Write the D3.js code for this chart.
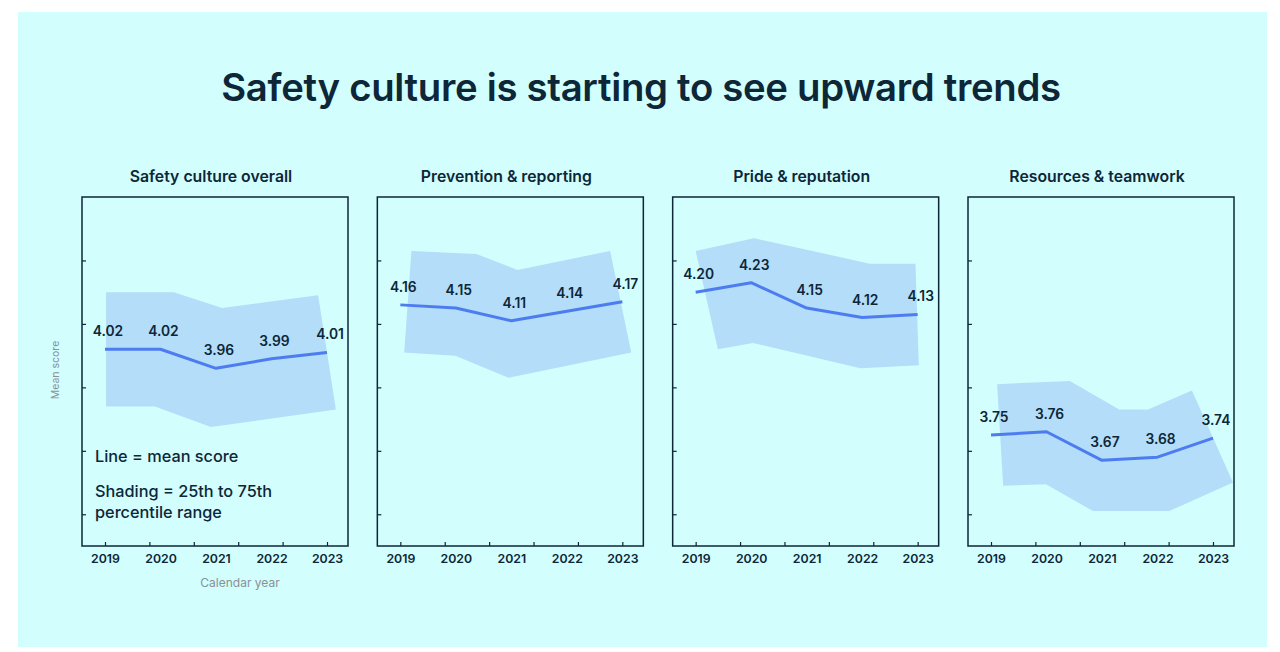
<!DOCTYPE html>
<html>
<head>
<meta charset="utf-8">
<script src="https://cdn.jsdelivr.net/npm/d3@7"></script>
<style>
  body { margin: 0; background: #ffffff; }
  svg text { font-family: Inter, "Noto Sans", sans-serif; }
</style>
</head>
<body>
<div id="chart"></div>
<script>
// datos
const years = [2019, 2020, 2021, 2022, 2023];
const panelTitles = ["Safety culture overall", "Prevention & reporting", "Pride & reputation", "Resources & teamwork"];
const meanScores = [
  [4.02, 4.02, 3.96, 3.99, 4.01],
  [4.16, 4.15, 4.11, 4.14, 4.17],
  [4.20, 4.23, 4.15, 4.12, 4.13],
  [3.75, 3.76, 3.67, 3.68, 3.74]
];
// contorno de la banda 25-75 (año, puntaje), arriba de izq. a der.
const bandUpper = [
  [[2019.02, 4.20], [2020.24, 4.20], [2021.11, 4.15], [2022.84, 4.19], [2023.16, 3.83]],
  [[2019.2, 4.33], [2020.37, 4.32], [2021.11, 4.27], [2022.78, 4.33], [2023.16, 4.01]],
  [[2019.0, 4.33], [2020.05, 4.37], [2022.14, 4.29], [2022.96, 4.29], [2023.02, 3.97]],
  [[2019.11, 3.91], [2020.42, 3.92], [2021.31, 3.83], [2021.83, 3.83], [2022.62, 3.89], [2023.36, 3.60]]
];
// abajo, de der. a izq.
const bandLower = [
  [[2020.91, 3.775], [2019.9, 3.84], [2019.02, 3.84]],
  [[2020.95, 3.93], [2019.99, 4.00], [2019.07, 4.01]],
  [[2021.97, 3.96], [2020.03, 4.04], [2019.4, 4.02]],
  [[2022.21, 3.51], [2020.84, 3.51], [2019.99, 3.595], [2019.22, 3.59]]
];
const yTicks = [3.5, 3.7, 3.9, 4.1, 4.3];
const yDomain = [3.4, 4.5];
const legendLines = ["Line = mean score", "Shading = 25th to 75th", "percentile range"];

const W = 1280, H = 652;
const navy = "#0d2638";

const svg = d3.select("#chart").append("svg")
  .attr("width", W).attr("height", H);

svg.append("rect")
  .attr("x", 18).attr("y", 12)
  .attr("width", 1249).attr("height", 635)
  .attr("fill", "#d2fefe");

svg.append("text")
  .attr("x", 641).attr("y", 101)
  .attr("text-anchor", "middle")
  .style("font-size", "38.3px")
  .style("font-weight", 600)
  .style("letter-spacing", "-0.3px")
  .attr("fill", navy)
  .text("Safety culture is starting to see upward trends");

const panelW = 266, plotTop = 197, plotBottom = 546;
const panelX = d3.scaleLinear().domain([0, 3]).range([82, 968]);

const yScale = d3.scaleLinear().domain(yDomain).range([plotBottom, plotTop]);

panelTitles.forEach((title, i) => {
  const x0 = panelX(i);
  const xScale = d3.scaleLinear().domain([2019, 2023]).range([x0 + 23, x0 + 245]);
  const g = svg.append("g");

  // banda
  const outline = bandUpper[i].concat(bandLower[i]);
  g.append("path")
    .attr("d", d3.line().x(d => xScale(d[0])).y(d => yScale(d[1]))(outline) + "Z")
    .attr("fill", "#b3ddf8");

  // linea del promedio
  const pts = years.map((yr, j) => ({ yr: yr, v: meanScores[i][j] }));
  g.append("path")
    .datum(pts)
    .attr("d", d3.line().x(d => xScale(d.yr)).y(d => yScale(d.v)))
    .attr("fill", "none")
    .attr("stroke", "#4d7cf0")
    .attr("stroke-width", 3)
    .attr("stroke-linejoin", "round");

  g.selectAll(".val")
    .data(pts)
    .enter().append("text")
    .attr("x", d => xScale(d.yr) + 3)
    .attr("y", d => yScale(d.v) - 13)
    .attr("text-anchor", "middle")
    .style("font-size", "13.8px")
    .style("font-weight", 600)
    .attr("fill", navy)
    .text(d => d.v.toFixed(2));

  // marco
  g.append("rect")
    .attr("x", x0).attr("y", plotTop)
    .attr("width", panelW).attr("height", plotBottom - plotTop)
    .attr("fill", "none")
    .attr("stroke", navy)
    .attr("stroke-width", 1.5);

  // ticks izquierda (hacia adentro)
  const yAxis = g.append("g")
    .attr("transform", `translate(${x0},0)`)
    .call(d3.axisLeft(yScale).tickValues(yTicks).tickSize(-4).tickFormat(""));
  yAxis.select(".domain").remove();
  yAxis.selectAll(".tick line").attr("stroke", navy).attr("stroke-width", 1.2);

  // ticks abajo: 6 marcas parejas
  const tickPos = d3.range(6).map(k => 2019 + k * 0.8);
  const xTicks = g.append("g")
    .attr("transform", `translate(0,${plotBottom})`)
    .call(d3.axisBottom(xScale).tickValues(tickPos).tickSize(-4).tickFormat(""));
  xTicks.select(".domain").remove();
  xTicks.selectAll(".tick line").attr("stroke", navy).attr("stroke-width", 1.2);

  // etiquetas de años
  const xLabels = g.append("g")
    .attr("transform", `translate(0,${plotBottom})`)
    .call(d3.axisBottom(xScale).tickValues(years).tickSize(0).tickPadding(8.5).tickFormat(d3.format("d")));
  xLabels.select(".domain").remove();
  xLabels.selectAll("text")
    .style("font-size", "12.3px")
    .style("font-weight", 600)
    .style("font-family", "Inter, sans-serif")
    .attr("fill", navy);

  g.append("text")
    .attr("x", x0 + panelW / 2 - 4)
    .attr("y", 182)
    .attr("text-anchor", "middle")
    .style("font-size", "15.8px")
    .style("font-weight", 600)
    .attr("fill", navy)
    .text(title);

  if (i === 0) {
    g.selectAll(".legend")
      .data(legendLines)
      .enter().append("text")
      .attr("x", x0 + 13)
      .attr("y", (d, k) => [462, 497, 518][k])
      .style("font-size", "16.3px")
      .style("font-weight", 500)
      .attr("fill", navy)
      .text(d => d);

    g.append("text")
      .attr("transform", `translate(59,370) rotate(-90)`)
      .attr("text-anchor", "middle")
      .style("font-size", "10.5px")
      .attr("fill", "#8a9196")
      .text("Mean score");

    g.append("text")
      .attr("x", 240).attr("y", 587)
      .attr("text-anchor", "middle")
      .style("font-size", "12px")
      .attr("fill", "#8a9196")
      .text("Calendar year");
  }
});
</script>
</body>
</html>
